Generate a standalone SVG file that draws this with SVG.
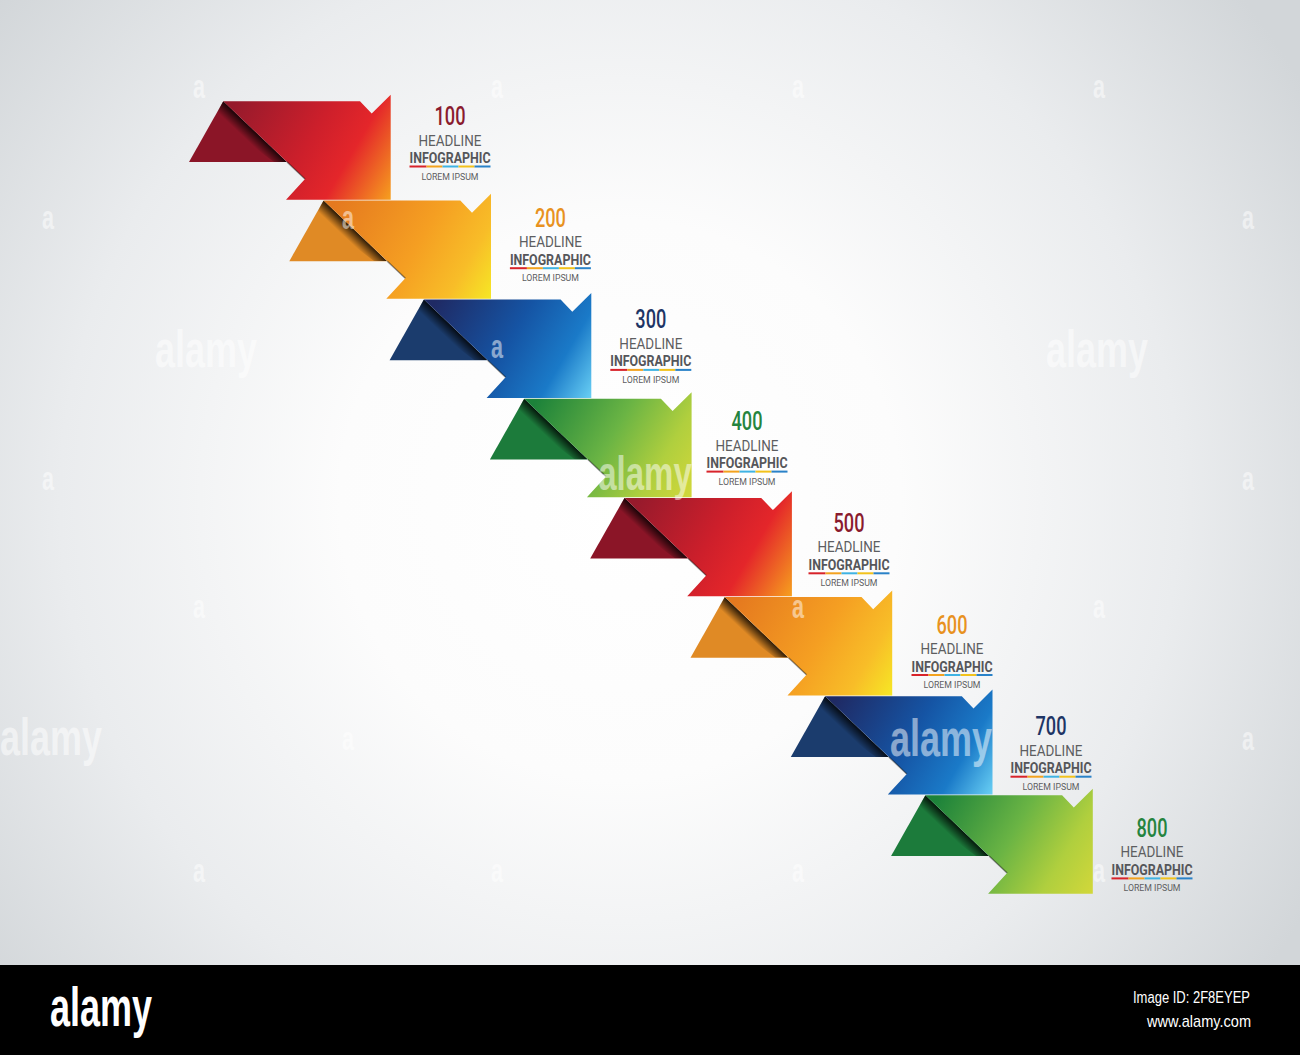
<svg xmlns="http://www.w3.org/2000/svg" width="1300" height="1055" viewBox="0 0 1300 1055">
<style>
.num{font-family:Roboto,"Liberation Sans",sans-serif;font-size:25px;font-weight:500;text-anchor:middle}
.hl{font-family:Roboto,"Liberation Sans",sans-serif;font-size:15.5px;fill:#5d5e61;text-anchor:middle}
.ig{font-family:Roboto,"Liberation Sans",sans-serif;font-size:14px;font-weight:bold;fill:#55565a;text-anchor:middle}
.lo{font-family:Roboto,"Liberation Sans",sans-serif;font-size:9px;fill:#5d5e61;text-anchor:middle}
.wm{font-family:"Liberation Sans",Arial,sans-serif;font-weight:bold;fill:#ffffff;fill-opacity:0.5;text-anchor:middle}
.red{fill:#8a1b2e}.org{fill:#e8921f}.blu{fill:#1e3565}.grn{fill:#25843e}
.shadow{fill:url(#gShadow)}
.edge{stroke:#000;stroke-opacity:0.45;stroke-width:1.4;fill:none}
</style>
<defs>
<radialGradient id="gBg" gradientUnits="userSpaceOnUse" cx="620" cy="500" r="800">
<stop offset="0" stop-color="#ffffff"/>
<stop offset="0.35" stop-color="#fcfcfc"/>
<stop offset="0.7" stop-color="#eaecee"/>
<stop offset="1" stop-color="#d2d6d9"/>
</radialGradient>
<linearGradient id="gShadow" gradientUnits="userSpaceOnUse" x1="250" y1="127" x2="242" y2="135.5">
<stop offset="0" stop-color="#000" stop-opacity="0.8"/>
<stop offset="1" stop-color="#000" stop-opacity="0"/>
</linearGradient>
<linearGradient id="gRed" gradientUnits="userSpaceOnUse" x1="232" y1="108" x2="392" y2="202">
<stop offset="0" stop-color="#961a2c"/>
<stop offset="0.45" stop-color="#cd1f2b"/>
<stop offset="0.68" stop-color="#e4262a"/>
<stop offset="1" stop-color="#f7a51e"/>
</linearGradient>
<linearGradient id="gOrg" gradientUnits="userSpaceOnUse" x1="232" y1="108" x2="392" y2="202">
<stop offset="0" stop-color="#e5791f"/>
<stop offset="0.5" stop-color="#f59f22"/>
<stop offset="0.78" stop-color="#f8bd28"/>
<stop offset="1" stop-color="#f6ea25"/>
</linearGradient>
<linearGradient id="gBlu" gradientUnits="userSpaceOnUse" x1="232" y1="108" x2="392" y2="202">
<stop offset="0" stop-color="#1f2a64"/>
<stop offset="0.45" stop-color="#1554a4"/>
<stop offset="0.75" stop-color="#1a7ac8"/>
<stop offset="1" stop-color="#6dd4f7"/>
</linearGradient>
<linearGradient id="gGrn" gradientUnits="userSpaceOnUse" x1="232" y1="108" x2="392" y2="202">
<stop offset="0" stop-color="#1c823a"/>
<stop offset="0.45" stop-color="#6ab444"/>
<stop offset="0.75" stop-color="#b0cf3e"/>
<stop offset="1" stop-color="#d4d83a"/>
</linearGradient>
<clipPath id="cLeft" clipPathUnits="userSpaceOnUse">
<polygon points="223.3,101.3 287,162 189,162"/>
</clipPath>
<polygon id="pMain" points="223.3,101.3 360,101.3 371.7,113.5 390.7,94.7 390.7,199.7 286,199.7 305,179"/>
<polygon id="pLeft" points="223.3,101.3 287,162 189,162"/>
<g id="pShade">
<polygon class="shadow" clip-path="url(#cLeft)" points="223.3,101.3 287,162 274,162 206,112"/>
<line class="edge" x1="287" y1="162" x2="305" y2="179"/>
</g>
<g id="bar">
<rect x="-40.5" y="0" width="17" height="2" fill="#d8232a"/>
<rect x="-23.5" y="0" width="16" height="2" fill="#f3a21f"/>
<rect x="-7.5" y="0" width="16" height="2" fill="#3fb3e3"/>
<rect x="8.5" y="0" width="16" height="2" fill="#f2c21c"/>
<rect x="24.5" y="0" width="16" height="2" fill="#2a82c8"/>
</g>
</defs>

<rect x="0" y="0" width="1300" height="965" fill="url(#gBg)"/>

<g id="arrows">
<g id="arrow1">
<use href="#pMain" fill="url(#gRed)"/><use href="#pLeft" fill="#8b1527"/><use href="#pShade"/>
</g>
<g id="arrow2" transform="translate(100.3,99.15)">
<use href="#pMain" fill="url(#gOrg)"/><use href="#pLeft" fill="#e08a25"/><use href="#pShade"/>
</g>
<g id="arrow3" transform="translate(200.6,198.3)">
<use href="#pMain" fill="url(#gBlu)"/><use href="#pLeft" fill="#1b3c6d"/><use href="#pShade"/>
</g>
<g id="arrow4" transform="translate(300.9,297.45)">
<use href="#pMain" fill="url(#gGrn)"/><use href="#pLeft" fill="#1c7b3b"/><use href="#pShade"/>
</g>
<g id="arrow5" transform="translate(401.2,396.6)">
<use href="#pMain" fill="url(#gRed)"/><use href="#pLeft" fill="#8b1527"/><use href="#pShade"/>
</g>
<g id="arrow6" transform="translate(501.5,495.75)">
<use href="#pMain" fill="url(#gOrg)"/><use href="#pLeft" fill="#e08a25"/><use href="#pShade"/>
</g>
<g id="arrow7" transform="translate(601.8,594.9)">
<use href="#pMain" fill="url(#gBlu)"/><use href="#pLeft" fill="#1b3c6d"/><use href="#pShade"/>
</g>
<g id="arrow8" transform="translate(702.1,694.05)">
<use href="#pMain" fill="url(#gGrn)"/><use href="#pLeft" fill="#1c7b3b"/><use href="#pShade"/>
</g>
</g>

<g id="label1" transform="translate(450,0)">
<text class="num red" x="0" y="125" textLength="31" lengthAdjust="spacingAndGlyphs">100</text>
<text class="hl" x="0" y="145.5" textLength="63" lengthAdjust="spacingAndGlyphs">HEADLINE</text>
<text class="ig" x="0" y="163" textLength="81" lengthAdjust="spacingAndGlyphs">INFOGRAPHIC</text>
<use href="#bar" y="165.5"/>
<text class="lo" x="0" y="179.5" textLength="57" lengthAdjust="spacingAndGlyphs">LOREM IPSUM</text>
</g>
<g id="label2" transform="translate(550.4,101.7)">
<text class="num org" x="0" y="125" textLength="31" lengthAdjust="spacingAndGlyphs">200</text>
<text class="hl" x="0" y="145.5" textLength="63" lengthAdjust="spacingAndGlyphs">HEADLINE</text>
<text class="ig" x="0" y="163" textLength="81" lengthAdjust="spacingAndGlyphs">INFOGRAPHIC</text>
<use href="#bar" y="165.5"/>
<text class="lo" x="0" y="179.5" textLength="57" lengthAdjust="spacingAndGlyphs">LOREM IPSUM</text>
</g>
<g id="label3" transform="translate(650.8,203.4)">
<text class="num blu" x="0" y="125" textLength="31" lengthAdjust="spacingAndGlyphs">300</text>
<text class="hl" x="0" y="145.5" textLength="63" lengthAdjust="spacingAndGlyphs">HEADLINE</text>
<text class="ig" x="0" y="163" textLength="81" lengthAdjust="spacingAndGlyphs">INFOGRAPHIC</text>
<use href="#bar" y="165.5"/>
<text class="lo" x="0" y="179.5" textLength="57" lengthAdjust="spacingAndGlyphs">LOREM IPSUM</text>
</g>
<g id="label4" transform="translate(747,305.1)">
<text class="num grn" x="0" y="125" textLength="31" lengthAdjust="spacingAndGlyphs">400</text>
<text class="hl" x="0" y="145.5" textLength="63" lengthAdjust="spacingAndGlyphs">HEADLINE</text>
<text class="ig" x="0" y="163" textLength="81" lengthAdjust="spacingAndGlyphs">INFOGRAPHIC</text>
<use href="#bar" y="165.5"/>
<text class="lo" x="0" y="179.5" textLength="57" lengthAdjust="spacingAndGlyphs">LOREM IPSUM</text>
</g>
<g id="label5" transform="translate(849,406.8)">
<text class="num red" x="0" y="125" textLength="31" lengthAdjust="spacingAndGlyphs">500</text>
<text class="hl" x="0" y="145.5" textLength="63" lengthAdjust="spacingAndGlyphs">HEADLINE</text>
<text class="ig" x="0" y="163" textLength="81" lengthAdjust="spacingAndGlyphs">INFOGRAPHIC</text>
<use href="#bar" y="165.5"/>
<text class="lo" x="0" y="179.5" textLength="57" lengthAdjust="spacingAndGlyphs">LOREM IPSUM</text>
</g>
<g id="label6" transform="translate(952,508.5)">
<text class="num org" x="0" y="125" textLength="31" lengthAdjust="spacingAndGlyphs">600</text>
<text class="hl" x="0" y="145.5" textLength="63" lengthAdjust="spacingAndGlyphs">HEADLINE</text>
<text class="ig" x="0" y="163" textLength="81" lengthAdjust="spacingAndGlyphs">INFOGRAPHIC</text>
<use href="#bar" y="165.5"/>
<text class="lo" x="0" y="179.5" textLength="57" lengthAdjust="spacingAndGlyphs">LOREM IPSUM</text>
</g>
<g id="label7" transform="translate(1051,610.2)">
<text class="num blu" x="0" y="125" textLength="31" lengthAdjust="spacingAndGlyphs">700</text>
<text class="hl" x="0" y="145.5" textLength="63" lengthAdjust="spacingAndGlyphs">HEADLINE</text>
<text class="ig" x="0" y="163" textLength="81" lengthAdjust="spacingAndGlyphs">INFOGRAPHIC</text>
<use href="#bar" y="165.5"/>
<text class="lo" x="0" y="179.5" textLength="57" lengthAdjust="spacingAndGlyphs">LOREM IPSUM</text>
</g>
<g id="label8" transform="translate(1152,711.9)">
<text class="num grn" x="0" y="125" textLength="31" lengthAdjust="spacingAndGlyphs">800</text>
<text class="hl" x="0" y="145.5" textLength="63" lengthAdjust="spacingAndGlyphs">HEADLINE</text>
<text class="ig" x="0" y="163" textLength="81" lengthAdjust="spacingAndGlyphs">INFOGRAPHIC</text>
<use href="#bar" y="165.5"/>
<text class="lo" x="0" y="179.5" textLength="57" lengthAdjust="spacingAndGlyphs">LOREM IPSUM</text>
</g>

<g id="watermark">
<g font-size="34">
<text class="wm" x="199" y="98" textLength="12" lengthAdjust="spacingAndGlyphs">a</text>
<text class="wm" x="497" y="98" textLength="12" lengthAdjust="spacingAndGlyphs">a</text>
<text class="wm" x="798" y="98" textLength="12" lengthAdjust="spacingAndGlyphs">a</text>
<text class="wm" x="1099" y="98" textLength="12" lengthAdjust="spacingAndGlyphs">a</text>
<text class="wm" x="48" y="229" textLength="12" lengthAdjust="spacingAndGlyphs">a</text>
<text class="wm" x="348" y="229" textLength="12" lengthAdjust="spacingAndGlyphs">a</text>
<text class="wm" x="1248" y="229" textLength="12" lengthAdjust="spacingAndGlyphs">a</text>
<text class="wm" x="497" y="358" textLength="12" lengthAdjust="spacingAndGlyphs">a</text>
<text class="wm" x="48" y="490" textLength="12" lengthAdjust="spacingAndGlyphs">a</text>
<text class="wm" x="1248" y="490" textLength="12" lengthAdjust="spacingAndGlyphs">a</text>
<text class="wm" x="199" y="618" textLength="12" lengthAdjust="spacingAndGlyphs">a</text>
<text class="wm" x="798" y="618" textLength="12" lengthAdjust="spacingAndGlyphs">a</text>
<text class="wm" x="1099" y="618" textLength="12" lengthAdjust="spacingAndGlyphs">a</text>
<text class="wm" x="348" y="750" textLength="12" lengthAdjust="spacingAndGlyphs">a</text>
<text class="wm" x="1248" y="750" textLength="12" lengthAdjust="spacingAndGlyphs">a</text>
<text class="wm" x="199" y="882" textLength="12" lengthAdjust="spacingAndGlyphs">a</text>
<text class="wm" x="497" y="882" textLength="12" lengthAdjust="spacingAndGlyphs">a</text>
<text class="wm" x="798" y="882" textLength="12" lengthAdjust="spacingAndGlyphs">a</text>
<text class="wm" x="1099" y="882" textLength="12" lengthAdjust="spacingAndGlyphs">a</text>
</g>
<g font-size="36">
<text class="wm" transform="translate(206,367) scale(1,1.45)">alamy</text>
<text class="wm" transform="translate(1097,367) scale(1,1.45)">alamy</text>
<text class="wm" transform="translate(645,490) scale(1,1.45)" font-size="33">alamy</text>
<text class="wm" transform="translate(51,755) scale(1,1.45)">alamy</text>
<text class="wm" transform="translate(941,756) scale(1,1.45)">alamy</text>
</g>
</g>

<g id="footer">
<rect x="0" y="965" width="1300" height="90" fill="#000"/>
<text x="50" y="1026" font-family="'Liberation Sans',Arial,sans-serif" font-weight="bold" font-size="56" fill="#fff" textLength="102" lengthAdjust="spacingAndGlyphs">alamy</text>
<text x="1250" y="1003" font-family="'Liberation Sans',Arial,sans-serif" font-size="16" fill="#fff" text-anchor="end" textLength="117" lengthAdjust="spacingAndGlyphs">Image ID: 2F8EYEP</text>
<text x="1251" y="1027" font-family="'Liberation Sans',Arial,sans-serif" font-size="17" fill="#fff" text-anchor="end" textLength="104" lengthAdjust="spacingAndGlyphs">www.alamy.com</text>
</g>
</svg>
